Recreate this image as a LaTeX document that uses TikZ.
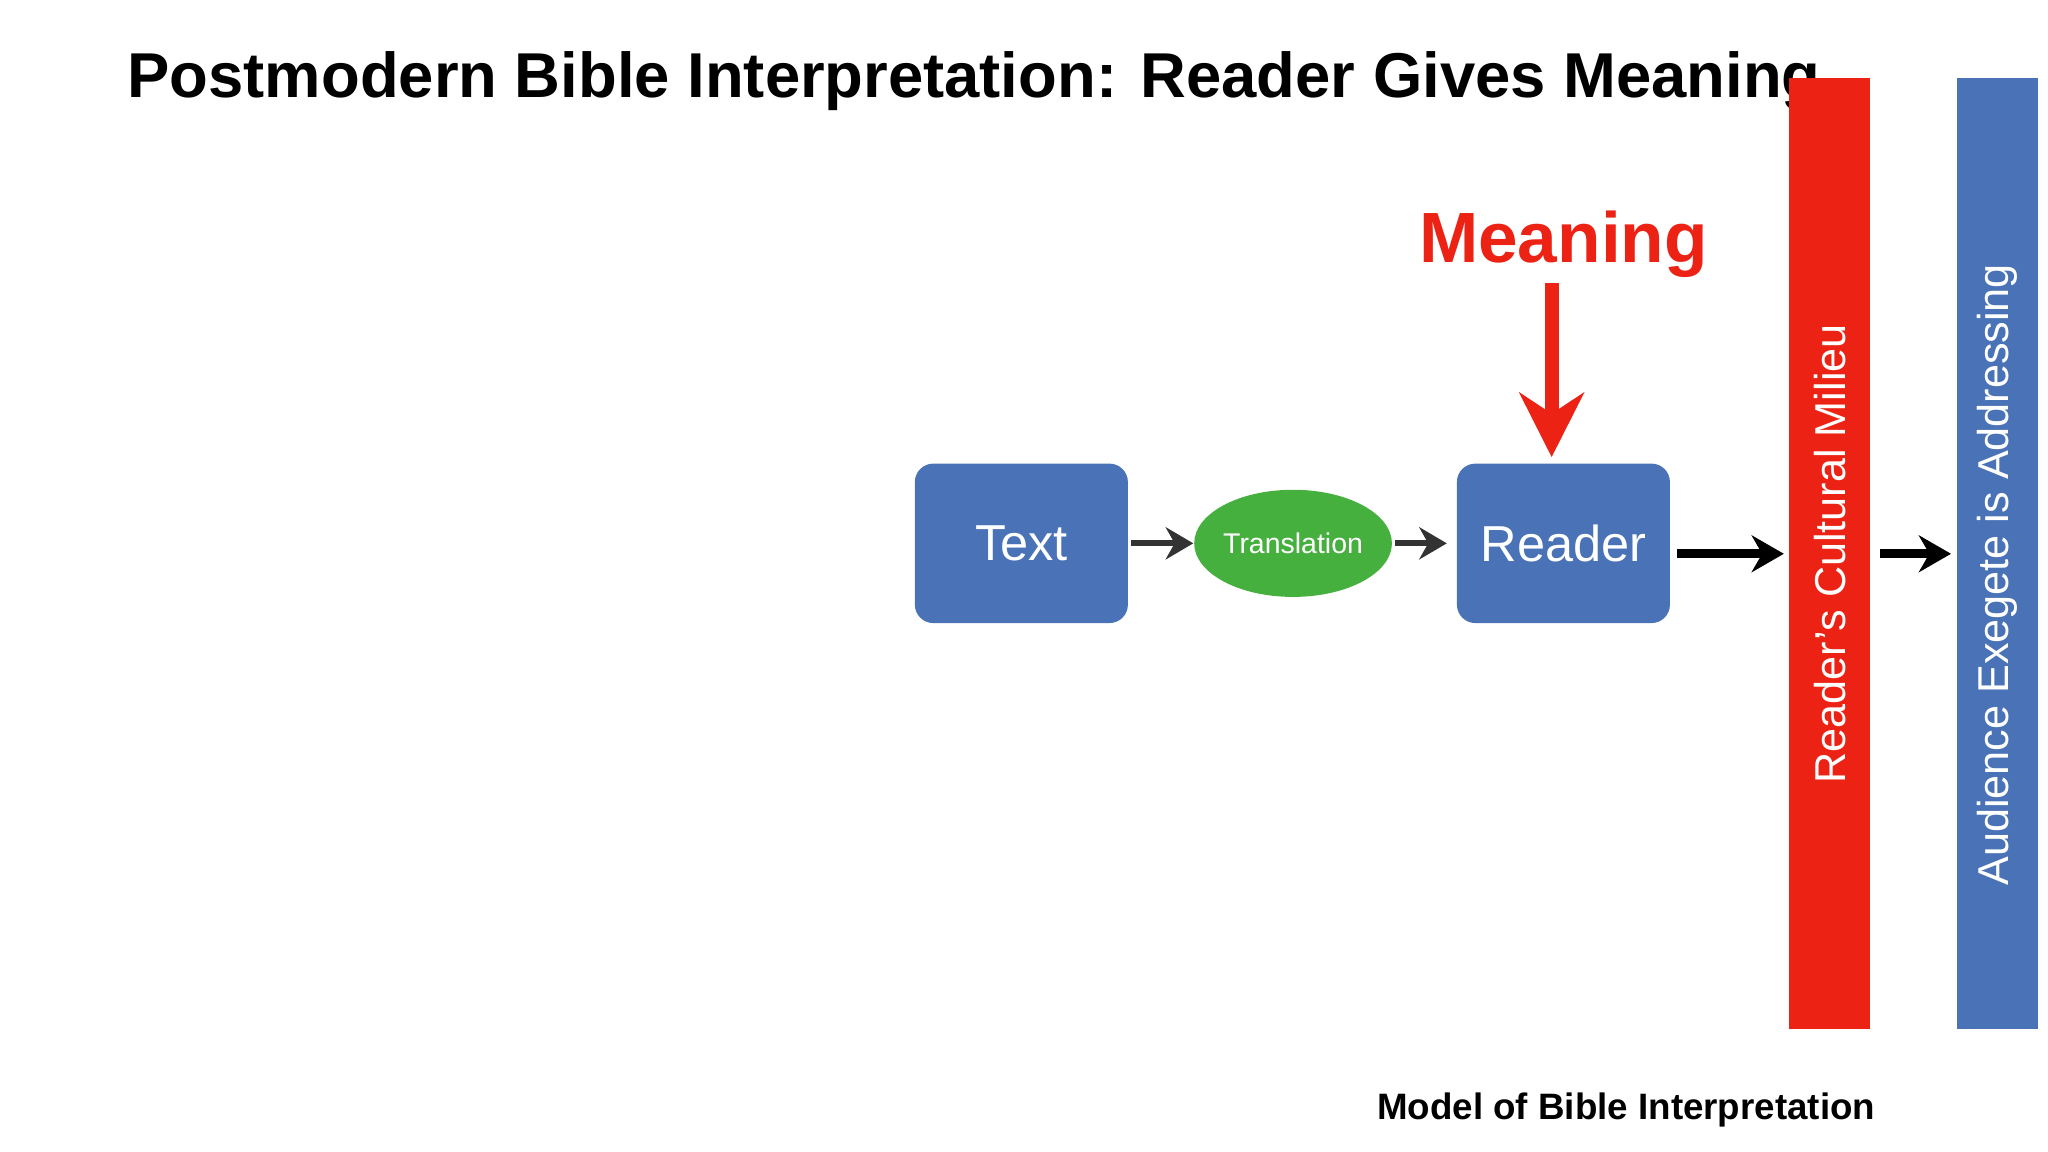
\documentclass[tikz,border=0pt]{standalone}
\usepackage{fontspec}
\setmainfont{Liberation Sans}
\usetikzlibrary{shapes.geometric,arrows.meta}
\definecolor{bblue}{HTML}{4A72B6}
\definecolor{bred}{HTML}{EC2314}
\definecolor{bgreen}{HTML}{45B03D}
\tikzset{
  box/.style={draw=none,fill=bblue,rounded corners=4pt,minimum width=1.63cm,minimum height=1.22cm,text=white,font=\fontsize{11}{13}\selectfont},
  bar/.style={draw=none,minimum width=0.62cm,minimum height=7.28cm,inner sep=0pt},
  bartext/.style={text=white,rotate=90,font=\fontsize{9.4}{11}\selectfont},
  garrow/.style={draw=black!80,line width=1.3pt,-{Stealth[length=6pt,width=7pt]}},
  karrow/.style={draw=black,line width=2pt,-{Stealth[length=7pt,width=8pt]}}
}
\begin{document}
\begin{tikzpicture}[x=0.01cm,y=-0.01cm]
\useasboundingbox (0,0) rectangle (1568,882);
\node[anchor=west,inner sep=0pt,font=\bfseries\fontsize{13.8}{16}\selectfont] (title) at (97,62) {Postmodern Bible Interpretation: Reader Gives Meaning};
\node[box] (text) at (782,416) {Text};
\node[ellipse,fill=bgreen,minimum width=1.28cm,minimum height=0.82cm,inner sep=0pt,text=white,font=\fontsize{6.2}{7}\selectfont] (tr) at (990,416) {Translation};
\node[box] (reader) at (1197,416) {Reader};
\node[font=\bfseries\fontsize{15.5}{18}\selectfont,text=bred] (meaning) at (1197,187) {Meaning};
\node[bar,fill=bred] (milieu) at (1401,424) {};
\node[bartext] (milieut) at (milieu.center) {Reader’s Cultural Milieu};
\node[bar,fill=bblue] (aud) at (1529,424) {};
\node[bartext] (audt) at (1529,440) {Audience Exegete is Addressing};
\node[font=\bfseries\fontsize{8}{10}\selectfont] (cap) at (1245,850) {Model of Bible Interpretation};
\draw[garrow] (text.east) ++(2,0) -- (tr.west);
\draw[garrow] (tr.east) ++(2,0) -- ([xshift=-2]reader.west);
\draw[draw=bred,line width=3pt,-{Stealth[length=14pt,width=14pt]}] (1188,217) -- (1188,350);
\draw[karrow] (1284,424) -- ([xshift=-1]milieu.west);
\draw[karrow] ([xshift=2]milieu.east) -- ([xshift=-1]aud.west);
\end{tikzpicture}
\end{document}
